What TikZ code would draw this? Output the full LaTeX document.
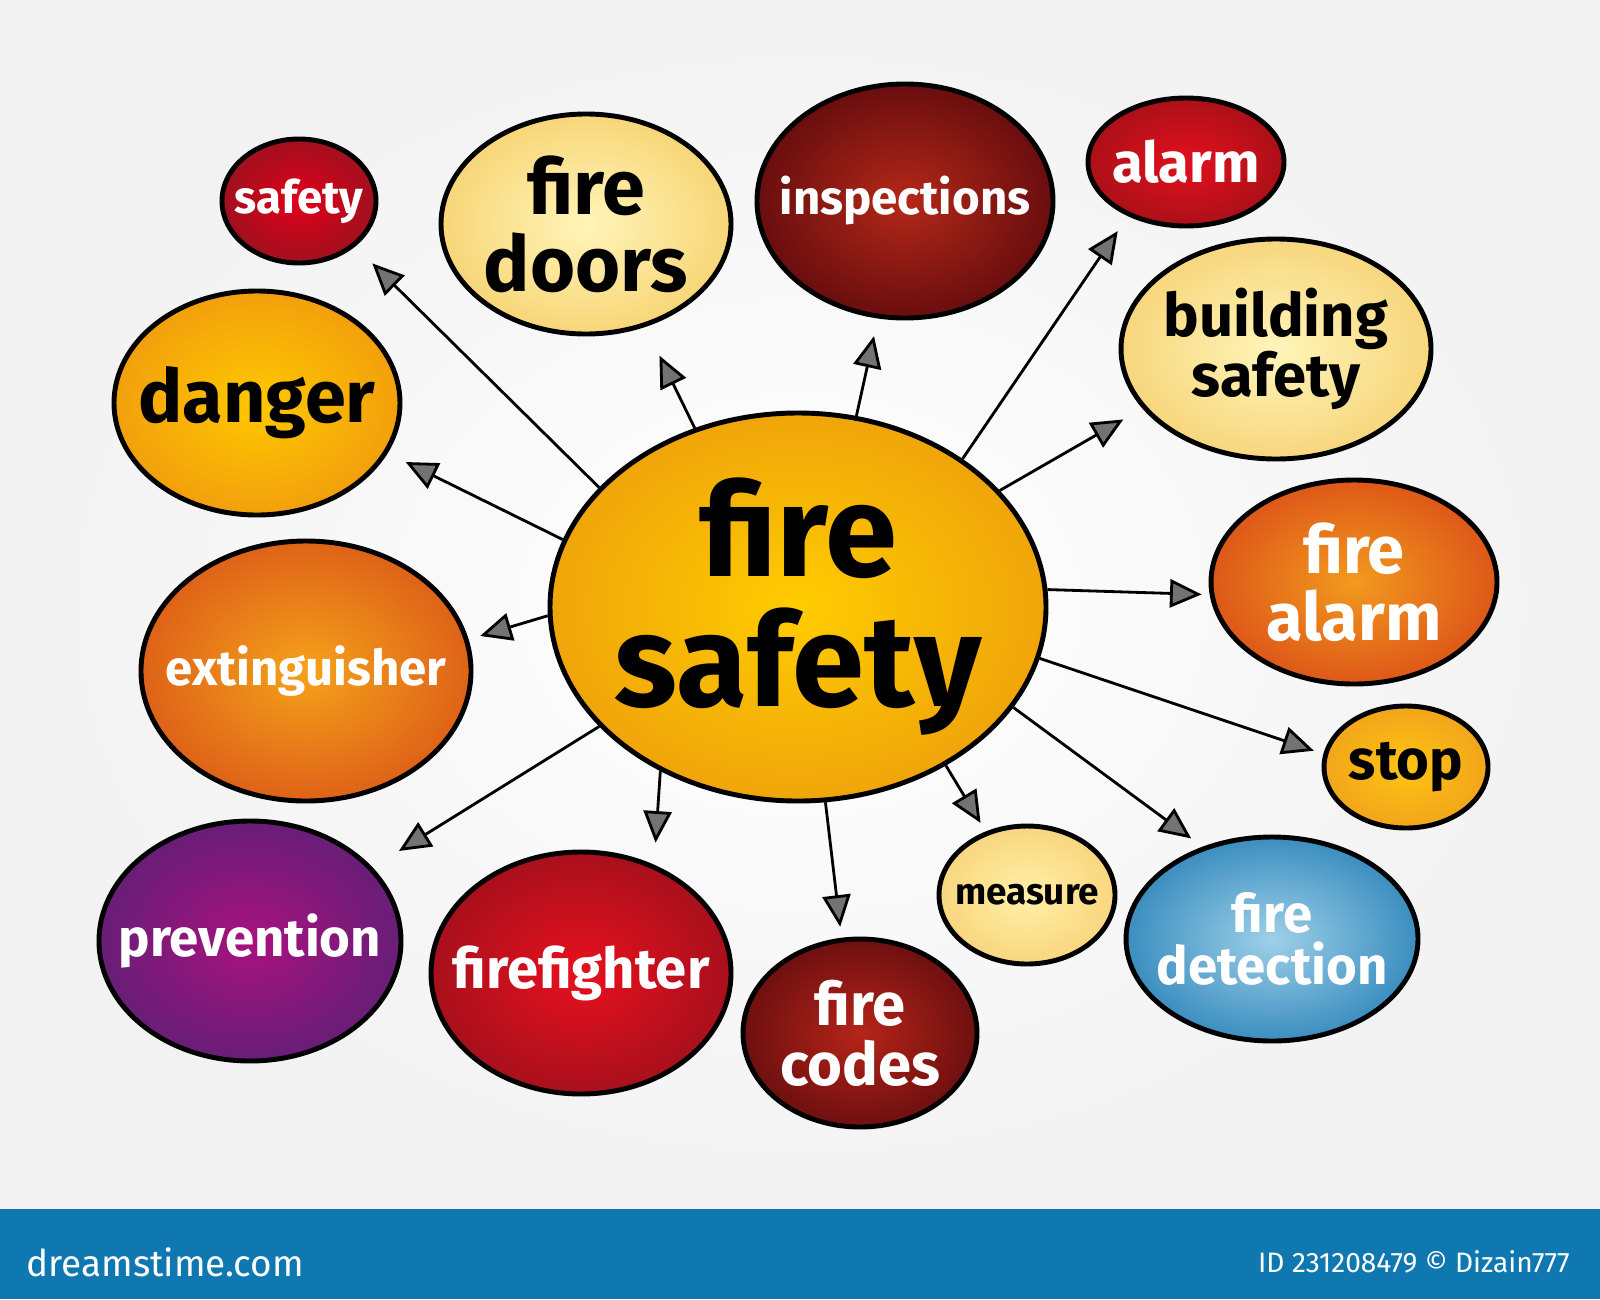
\documentclass[tikz,border=0pt]{standalone}
\usepackage{fontspec}
\setmainfont{Fira Sans}
\usetikzlibrary{shapes.geometric,arrows.meta,positioning}

\definecolor{barblue}{HTML}{1078B1}
\newcommand{\bubfont}[1]{\fontsize{#1}{#1}\selectfont}

\begin{document}
\begin{tikzpicture}[
  bubble/.style={ellipse, draw=black, line width=1.4pt, inner xsep=-0.6cm, inner ysep=-0.4cm, align=center},
  pt/.style={font=\bfseries\bubfont{#1}},
  whitetext/.style={text=white},
  arr/.style={line width=0.8pt, -{Triangle[length=9pt,width=8pt,fill=black!55]}}
]
\useasboundingbox (0,0) rectangle (16,-12.99);
% Background and bottom bar
\shade[inner color=white, outer color=gray!10] (0,0) rectangle (16,-12.09);
\fill[barblue] (0,-12.09) rectangle (16,-12.99);
\node[anchor=west, text=white, font=\fontsize{10.5}{10.5}\selectfont] (site) at (0.14,-12.62) {dreamstime.com};
\node[anchor=east, text=white, font=\fontsize{8}{8}\selectfont] (imgid) at (15.82,-12.62) {ID 231208479 © Dizain777};

% Central topic
\node[bubble, pt=37, minimum width=4.96cm, minimum height=3.88cm, inner color={rgb,255:red,255;green,204;blue,0}, outer color={rgb,255:red,240;green,165;blue,10}] (fs) at (7.98,-6.07) {fire\\safety};

% Top row
\node[bubble, pt=13, whitetext, minimum width=1.54cm, minimum height=1.24cm, inner color={rgb,255:red,226;green,0;blue,26}, outer color={rgb,255:red,160;green,16;blue,30}] (safety) at (2.99,-2.01) {safety};
\node[bubble, pt=22, minimum width=2.90cm, minimum height=2.20cm, inner color={rgb,255:red,255;green,245;blue,185}, outer color={rgb,255:red,248;green,214;blue,120}] (doors) at (5.86,-2.24) {fire\\doors};
\node[bubble, pt=13.5, whitetext, minimum width=2.96cm, minimum height=2.34cm, inner color={rgb,255:red,180;green,40;blue,24}, outer color={rgb,255:red,105;green,14;blue,14}] (insp) at (9.05,-2.01) {inspections};
\node[bubble, pt=16, whitetext, minimum width=1.96cm, minimum height=1.28cm, inner color={rgb,255:red,226;green,16;blue,30}, outer color={rgb,255:red,172;green,16;blue,24}] (alarm) at (11.86,-1.62) {alarm};
\node[bubble, pt=17, minimum width=3.10cm, minimum height=2.20cm, inner color={rgb,255:red,255;green,245;blue,185}, outer color={rgb,255:red,247;green,214;blue,125}] (bsafety) at (12.76,-3.49) {building\\safety};

% Left side
\node[bubble, pt=21, minimum width=2.86cm, minimum height=2.24cm, inner color={rgb,255:red,255;green,200;blue,0}, outer color={rgb,255:red,242;green,160;blue,12}] (danger) at (2.57,-4.03) {danger};
\node[bubble, pt=14, whitetext, minimum width=3.30cm, minimum height=2.60cm, inner color={rgb,255:red,245;green,162;blue,26}, outer color={rgb,255:red,222;green,98;blue,24}] (ext) at (3.06,-6.71) {extinguisher};
\node[bubble, pt=15, whitetext, minimum width=3.02cm, minimum height=2.40cm, inner color={rgb,255:red,168;green,18;blue,126}, outer color={rgb,255:red,104;green,30;blue,120}] (prev) at (2.50,-9.41) {prevention};

% Right side
\node[bubble, pt=19, whitetext, minimum width=2.86cm, minimum height=2.04cm, inner color={rgb,255:red,242;green,154;blue,30}, outer color={rgb,255:red,222;green,88;blue,24}] (falarm) at (13.54,-5.82) {fire\\alarm};
\node[bubble, pt=16, minimum width=1.64cm, minimum height=1.22cm, inner color={rgb,255:red,255;green,196;blue,20}, outer color={rgb,255:red,242;green,165;blue,26}] (stop) at (14.06,-7.67) {stop};
\node[bubble, pt=15, whitetext, minimum width=2.92cm, minimum height=2.04cm, inner color={rgb,255:red,158;green,208;blue,232}, outer color={rgb,255:red,59;green,142;blue,192}] (detect) at (12.72,-9.39) {fire\\detection};

% Bottom row
\node[bubble, pt=16, whitetext, minimum width=3.00cm, minimum height=2.42cm, inner color={rgb,255:red,232;green,16;blue,30}, outer color={rgb,255:red,168;green,16;blue,28}] (ffighter) at (5.81,-9.73) {firefighter};
\node[bubble, pt=17, whitetext, minimum width=2.34cm, minimum height=1.88cm, inner color={rgb,255:red,181;green,36;blue,24}, outer color={rgb,255:red,110;green,16;blue,16}] (codes) at (8.60,-10.33) {fire\\codes};
\node[bubble, pt=10.5, minimum width=1.76cm, minimum height=1.38cm, inner color={rgb,255:red,255;green,240;blue,168}, outer color={rgb,255:red,248;green,214;blue,126}] (measure) at (10.27,-8.95) {measure};

% Arrows from the central topic
\foreach \a/\t/\b/\gap in {149/safety/-39/0.24, 120/doors/-60/0.32, 73/insp/-103/0.18,
    42/alarm/-137/0.18, 30/bsafety/-156/0.22, 164/danger/-21/0.2, 182/ext/11/0.12,
    4/falarm/185/0.08, -12/stop/171/0.1, -25/detect/127/0.14, -47/measure/123/0.1,
    -82/codes/101/0.11, -130/ffighter/56/0.22, -149/prev/31/0.31} {
  \draw[arr, shorten >=\gap cm] (fs.\a) -- (\t.\b);
}
\end{tikzpicture}
\end{document}
